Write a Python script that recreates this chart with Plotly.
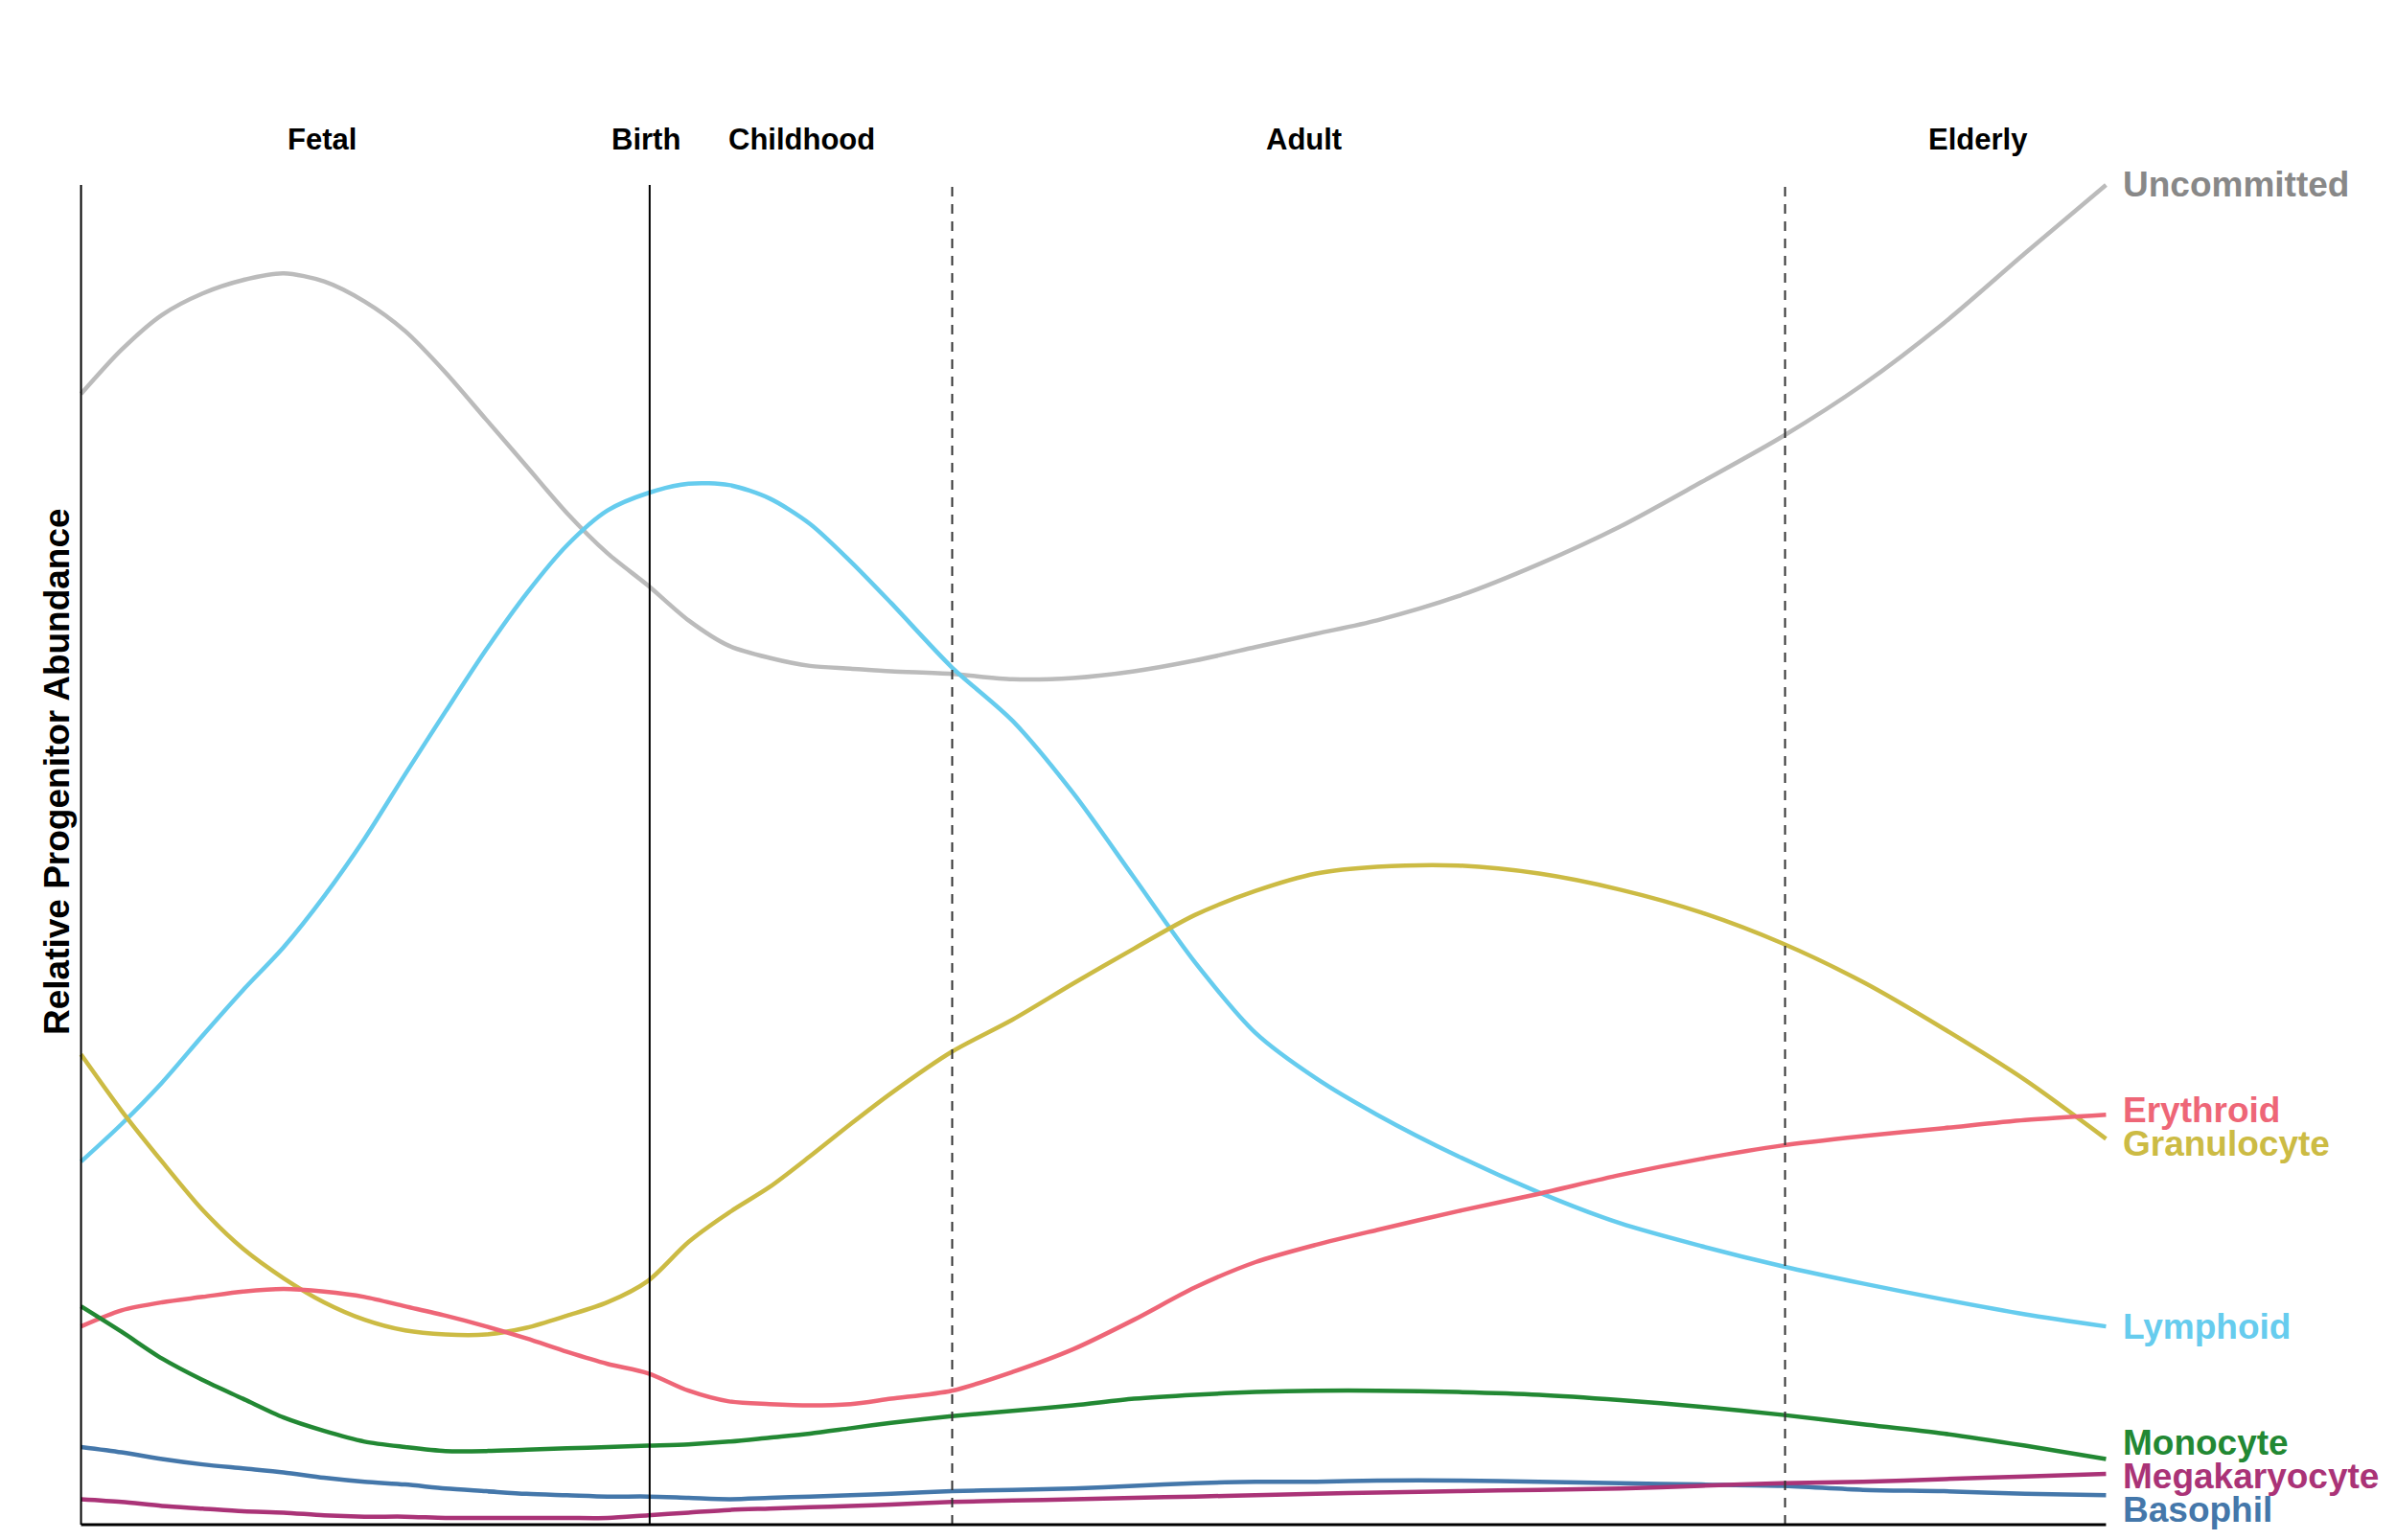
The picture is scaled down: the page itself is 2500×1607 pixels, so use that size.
import plotly.graph_objects as go

# ---- data -------------------------------------------------------------
age = [0, 2, 4, 6, 8, 10, 12, 14, 16, 18, 20, 22, 24, 26, 28, 30, 32, 34, 36, 38,
       40, 43, 46, 49, 52, 55, 58, 61, 64, 68, 72, 76, 80, 84, 88, 92, 96, 100]

uncommitted = [84.4, 87.7, 90.3, 91.9, 92.9, 93.4, 92.8, 91.3, 89.1, 86.0, 82.5, 79.0,
               75.5, 72.5, 70.1, 67.5, 65.6, 64.7, 64.1, 63.9, 63.7, 63.5, 63.1, 63.2,
               63.7, 64.5, 65.5, 66.5, 67.5, 69.3, 71.7, 74.5, 77.8, 81.2, 85.1, 89.7,
               94.9, 100.0]
lymphoid = [27.1, 29.9, 33.0, 36.5, 39.9, 43.1, 46.9, 51.2, 56.0, 60.7, 65.3, 69.5,
            73.1, 75.7, 77.0, 77.7, 77.6, 76.6, 74.7, 71.9, 68.8, 64.0, 60.0, 54.6,
            48.3, 42.0, 36.7, 33.3, 30.6, 27.5, 24.8, 22.5, 20.8, 19.3, 18.0, 16.8,
            15.7, 14.8]
granulocyte = [35.1, 30.9, 27.1, 23.5, 20.6, 18.4, 16.6, 15.3, 14.5, 14.2, 14.2, 14.7,
               15.6, 16.6, 18.2, 21.1, 23.3, 25.2, 27.5, 29.9, 32.2, 35.3, 37.7, 40.4,
               43.0, 45.5, 47.3, 48.6, 49.1, 49.2, 48.6, 47.4, 45.7, 43.4, 40.5, 37.0,
               33.2, 28.8]
erythroid = [14.8, 16.0, 16.6, 17.0, 17.4, 17.6, 17.4, 17.0, 16.3, 15.6, 14.8, 13.9,
             12.9, 12.0, 11.3, 10.0, 9.2, 9.0, 8.9, 9.0, 9.4, 10.0, 11.4, 13.1, 15.3,
             17.7, 19.6, 20.9, 22.0, 23.4, 24.7, 26.1, 27.3, 28.3, 29.0, 29.6, 30.2,
             30.6]
monocyte = [16.3, 14.4, 12.4, 10.8, 9.4, 8.0, 7.0, 6.2, 5.8, 5.5, 5.5, 5.6, 5.7, 5.8,
            5.9, 6.0, 6.2, 6.5, 6.8, 7.2, 7.6, 8.1, 8.5, 8.9, 9.4, 9.7, 9.9, 10.0, 10.0,
            9.9, 9.7, 9.3, 8.8, 8.2, 7.5, 6.8, 5.9, 4.9]
basophil = [5.8, 5.4, 4.9, 4.5, 4.2, 3.9, 3.5, 3.2, 3.0, 2.7, 2.5, 2.3, 2.2, 2.1, 2.1,
            2.0, 1.9, 2.0, 2.1, 2.2, 2.3, 2.5, 2.6, 2.7, 2.9, 3.1, 3.2, 3.2, 3.3, 3.3,
            3.2, 3.1, 3.0, 2.9, 2.6, 2.5, 2.3, 2.2]
megakaryocyte = [1.9, 1.7, 1.4, 1.2, 1.0, 0.9, 0.7, 0.6, 0.6, 0.5, 0.5, 0.5, 0.5, 0.5,
                 0.7, 0.9, 1.1, 1.2, 1.3, 1.4, 1.5, 1.7, 1.8, 1.9, 2.0, 2.1, 2.2, 2.3,
                 2.4, 2.5, 2.6, 2.7, 2.9, 3.1, 3.2, 3.4, 3.6, 3.8]

series_names = ["Uncommitted", "Lymphoid", "Granulocyte", "Erythroid",
                "Monocyte", "Basophil", "Megakaryocyte"]
series_values = [uncommitted, lymphoid, granulocyte, erythroid,
                 monocyte, basophil, megakaryocyte]
line_colors = ["#BBBBBB", "#66CCEE", "#CCBB44", "#EE6677",
               "#228833", "#4477AA", "#AA3377"]
label_colors = ["#888888", "#66CCEE", "#CCBB44", "#EE6677",
                "#228833", "#4477AA", "#AA3377"]

stage_labels = ["Fetal", "Birth", "Childhood", "Adult", "Elderly"]
stage_label_x = [11.9, 27.9, 35.6, 60.4, 93.7]
birth_x = 28.08
dashed_bounds = [43.02, 84.15]

# ---- figure -----------------------------------------------------------
FONT = "Liberation Sans, Arial, sans-serif"
W, H = 2492, 1599
ML, MR, MT, MB = 66, 292, 157, 2
PH = H - MT - MB

fig = go.Figure()

for name, vals, col in zip(series_names, series_values, line_colors):
    fig.add_trace(go.Scatter(x=age, y=vals, mode="lines", name=name,
                             line=dict(color=col, width=4.5, shape="spline",
                                       smoothing=0.8),
                             showlegend=False, hoverinfo="skip"))

shapes = []
for xv in [0, birth_x]:
    shapes.append(dict(type="line", xref="x", yref="y", x0=xv, x1=xv, y0=0, y1=100,
                       line=dict(color="black", width=2)))
for xv in dashed_bounds:
    shapes.append(dict(type="line", xref="x", yref="y", x0=xv, x1=xv, y0=0, y1=100,
                       line=dict(color="#333333", width=2, dash="10px,8px")))
shapes.append(dict(type="line", xref="x", yref="y", x0=0, x1=100, y0=0, y1=0,
                   line=dict(color="black", width=3)))

annotations = []
top_y = (H - MB - 137) / PH
for lab, xv in zip(stage_labels, stage_label_x):
    annotations.append(dict(x=xv, y=top_y, xref="x", yref="paper", text=f"<b>{lab}</b>",
                            showarrow=False, xanchor="center", yanchor="middle",
                            font=dict(family=FONT, size=31, color="black")))

# end labels with simple repel
ends = sorted((vals[-1], i) for i, vals in enumerate(series_values))
gap = 2.5
pos = [e[0] for e in ends]
for _ in range(200):
    moved = False
    for k in range(len(pos) - 1):
        if pos[k + 1] - pos[k] < gap - 1e-6:
            mid = (pos[k] + pos[k + 1]) / 2
            pos[k] = mid - gap / 2
            pos[k + 1] = mid + gap / 2
            moved = True
    if not moved:
        break
for (endv, i), py in zip(ends, pos):
    annotations.append(dict(x=100, y=py, xref="x", yref="y",
                            text=f"<b>{series_names[i]}</b>", showarrow=False,
                            xanchor="left", yanchor="middle", xshift=16,
                            font=dict(family=FONT, size=37, color=label_colors[i])))

annotations.append(dict(x=(51 - ML) / (W - ML - MR), y=(H - MB - 797) / PH,
                        xref="paper", yref="paper",
                        text="<b>Relative Progenitor Abundance</b>", showarrow=False,
                        textangle=-90, xanchor="center", yanchor="middle",
                        font=dict(family=FONT, size=37, color="black")))

fig.update_layout(
    width=W, height=H,
    paper_bgcolor="white", plot_bgcolor="white",
    margin=dict(l=ML, r=MR, t=MT, b=MB, autoexpand=False),
    xaxis=dict(range=[-0.5, 100.5], showgrid=False, zeroline=False,
               showticklabels=False, ticks="", showline=False),
    yaxis=dict(range=[-1, 102], showgrid=False, zeroline=False,
               showticklabels=False, ticks="", showline=False),
    shapes=shapes, annotations=annotations,
)

fig.write_html("out.html")
